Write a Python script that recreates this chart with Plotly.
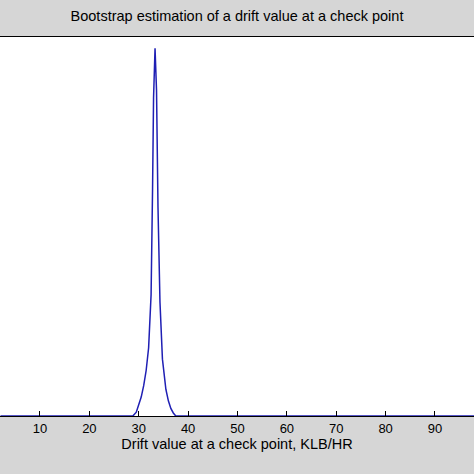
import plotly.graph_objects as go

# bootstrap density estimate
drift = [2, 28.8, 29.5, 30, 30.5, 31, 31.5, 32, 32.5, 32.8, 33, 33.3, 33.6, 33.9,
         34.3, 34.8, 35.5, 36, 36.5, 37, 37.5, 98]
density = [0, 0, 0.01, 0.03, 0.05, 0.08, 0.12, 0.18, 0.32, 0.6, 0.84, 0.97, 0.86, 0.55,
           0.3, 0.15, 0.07, 0.04, 0.02, 0.008, 0, 0]
tick_vals = [10, 20, 30, 40, 50, 60, 70, 80, 90]

fig = go.Figure(go.Scatter(x=drift, y=density, mode="lines",
                           line=dict(color="#1f1fb4", width=1.5)))

fig.update_layout(
    width=474, height=474,
    margin=dict(l=0, r=0, t=37, b=58, autoexpand=False),
    paper_bgcolor="#d6d6d6", plot_bgcolor="white",
    font=dict(family="Liberation Sans", size=12, color="black"),
    title=dict(text="Bootstrap estimation of a drift value at a check point",
               x=0.5, y=0.966, xanchor="center", yanchor="middle", font=dict(size=14.5)),
    showlegend=False,
)
fig.update_xaxes(range=[1.9, 97.9], tickvals=tick_vals, ticks="inside", ticklen=5,
                 tickcolor="black", showgrid=False, zeroline=False, automargin=False,
                 showline=True, linecolor="black", mirror=True, tickfont=dict(size=13),
                 title=dict(text="Drift value at a check point, KLB/HR", standoff=1,
                            font=dict(size=14.5)))
fig.update_yaxes(range=[0, 1.0], showticklabels=False, showgrid=False, zeroline=False,
                 automargin=False, showline=True, linecolor="black", mirror=True)

# page body has a default 8px margin; drop it so the figure fills the window
fig.write_html("out.html", config={"displayModeBar": False},
               post_script="document.body.style.margin='0';")
